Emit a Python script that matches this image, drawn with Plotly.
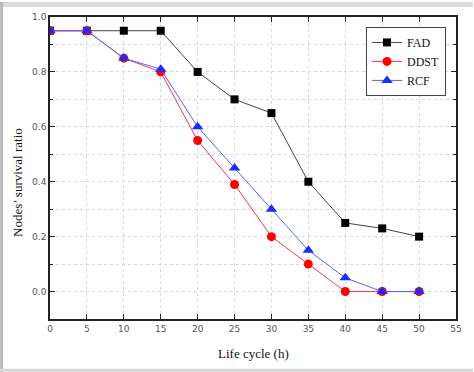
import plotly.graph_objects as go

life_cycle = [0, 5, 10, 15, 20, 25, 30, 35, 40, 45, 50]
fad = [0.95, 0.95, 0.95, 0.95, 0.80, 0.70, 0.65, 0.40, 0.25, 0.23, 0.20]
ddst = [0.95, 0.95, 0.85, 0.80, 0.55, 0.39, 0.20, 0.10, 0.00, 0.00, 0.00]
rcf = [0.95, 0.95, 0.85, 0.81, 0.60, 0.45, 0.30, 0.15, 0.05, 0.00, 0.00]

x_ticks = [0, 5, 10, 15, 20, 25, 30, 35, 40, 45, 50, 55]
y_ticks = [0.0, 0.2, 0.4, 0.6, 0.8, 1.0]
y_tick_labels = ["0.0", "0.2", "0.4", "0.6", "0.8", "1.0"]

W, H = 474, 372
ML, MR, MT, MB = 50, 17, 15, 53
PW, PH = W - ML - MR, H - MT - MB

serif = "Liberation Serif, DejaVu Serif, serif"
sans = "DejaVu Sans, Liberation Sans, sans-serif"

fig = go.Figure()
fig.add_trace(go.Scatter(x=life_cycle, y=fad, name="FAD", mode="lines+markers",
                         line=dict(color="#444444", width=1),
                         marker=dict(symbol="square", size=8, color="#000000")))
fig.add_trace(go.Scatter(x=life_cycle, y=ddst, name="DDST", mode="lines+markers",
                         line=dict(color="#ff3355", width=1),
                         marker=dict(symbol="circle", size=9, color="#ff0000")))
fig.add_trace(go.Scatter(x=life_cycle, y=rcf, name="RCF", mode="lines+markers",
                         line=dict(color="#5566ff", width=1),
                         marker=dict(symbol="triangle-up", size=10, color="#1a2cff")))


def px_x(p):
    return (p - ML) / PW


def px_y(p):
    return 1 - (p - MT) / PH


shapes = [
    dict(type="rect", xref="paper", yref="paper", x0=px_x(0), x1=px_x(W), y0=px_y(5), y1=px_y(0),
         fillcolor="#dcdcdc", line=dict(width=0), layer="below"),
    dict(type="rect", xref="paper", yref="paper", x0=px_x(0), x1=px_x(3), y0=px_y(H), y1=px_y(0),
         fillcolor="#b8b8b8", line=dict(width=0), layer="below"),
    dict(type="rect", xref="paper", yref="paper", x0=px_x(0), x1=px_x(W), y0=px_y(H), y1=px_y(H - 3),
         fillcolor="#d6d6d6", line=dict(width=0), layer="below"),
]

fig.update_layout(
    width=W, height=H,
    margin=dict(l=ML, r=MR, t=MT, b=MB),
    paper_bgcolor="white", plot_bgcolor="white",
    shapes=shapes,
    showlegend=True,
    legend=dict(x=px_x(447), y=px_y(25), xanchor="right", yanchor="top",
                bgcolor="white", bordercolor="#444444", borderwidth=1,
                font=dict(family=serif, size=12, color="#111111"),
                tracegroupgap=0, itemwidth=30),
    xaxis=dict(range=[0, 55], tickvals=x_ticks, ticks="inside", ticklen=5,
               tickcolor="#222222", tickwidth=1.2,
               showline=True, linecolor="#222222", linewidth=1.5, mirror="ticks",
               showgrid=True, gridcolor="#d8d8d8", griddash="dot", gridwidth=1,
               zeroline=False,
               tickfont=dict(family=sans, size=9, color="#555555")),
    yaxis=dict(range=[-0.1, 1.0], tickvals=y_ticks, ticktext=y_tick_labels,
               ticks="inside", ticklen=5, tickcolor="#222222", tickwidth=1.2,
               showline=True, linecolor="#222222", linewidth=1.5, mirror="ticks",
               showgrid=True, gridcolor="#d8d8d8", griddash="dot", gridwidth=1,
               zeroline=False,
               minor=dict(dtick=0.1, tick0=0, ticks="inside", ticklen=3,
                          tickcolor="#222222", showgrid=True,
                          gridcolor="#d8d8d8", griddash="dot"),
               tickfont=dict(family=sans, size=9, color="#555555")),
    annotations=[
        dict(text="Life cycle (h)", xref="paper", yref="paper", x=0.5, y=px_y(354),
             xanchor="center", yanchor="middle", showarrow=False,
             font=dict(family=serif, size=13, color="#111111")),
        dict(text="Nodes\u2019 survival ratio", xref="paper", yref="paper", x=px_x(18), y=px_y(182),
             xanchor="center", yanchor="middle", showarrow=False, textangle=-90,
             font=dict(family=serif, size=13, color="#111111")),
    ],
)

fig.write_html("out.html", config={"displayModeBar": False},
               post_script="document.body.style.margin='0';document.body.style.overflow='hidden';")
